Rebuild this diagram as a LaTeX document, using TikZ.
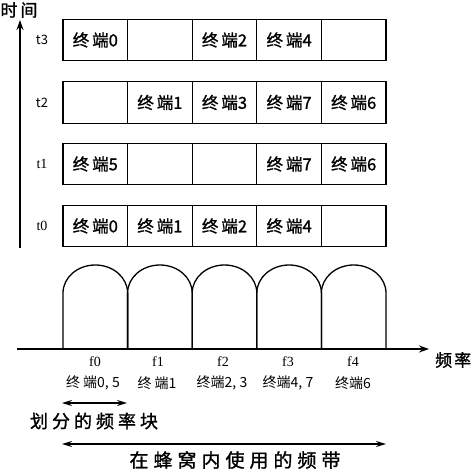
\documentclass[tikz,border=0pt]{standalone}
\usepackage{fontspec}
\setmainfont{Noto Sans CJK SC}
\newfontfamily\bcjk[FakeBold=1.2]{Noto Sans CJK SC}
\newfontfamily\serifnum{Liberation Serif}
\usetikzlibrary{arrows.meta}
\tikzset{
  cell/.style={draw, line width=1.3pt, minimum width=64.6pt, minimum height=41.5pt, inner sep=0pt, font=\bcjk\fontsize{16.5}{16.5}\selectfont},
  tlab/.style={font=\fontsize{13}{13}\selectfont, inner sep=0pt},
  flab/.style={font=\serifnum\fontsize{14}{14}\selectfont, inner sep=0pt},
  ulab/.style={font=\fontsize{14}{14}\selectfont, inner sep=0pt},
  big/.style={font=\bcjk\fontsize{18}{18}\selectfont, inner sep=0pt},
  axis/.style={line width=1.8pt, -{Stealth[length=10pt,width=7pt]}},
  hump/.style={line width=1.3pt},
  band/.style={line width=1.5pt, {Stealth[length=10pt,width=6pt]}-{Stealth[length=10pt,width=6pt]}}
}
\newcommand{\zd}[1]{终\hspace{3pt}端#1}
\begin{document}
\begin{tikzpicture}[x=1pt,y=-1pt]
\useasboundingbox (0,0) rectangle (474,471);
% time axis
\coordinate (tb) at (20,248);
\coordinate (tt) at (20,20);
\draw[axis] (tb) -- (tt);
\node[big, font=\bcjk\fontsize{17}{17}\selectfont] (time) at (19,10) {时\hspace{3pt}间};
% row labels
\node[tlab] (t3) at (42,40) {t3};
\node[tlab] (t2) at (42,102.5) {t2};
\node[tlab, font=\serifnum\fontsize{14}{14}\selectfont] (t1) at (42,164) {t1};
\node[tlab, font=\serifnum\fontsize{14}{14}\selectfont] (t0) at (42,226) {t0};
% t3
\node[cell] (a0) at (95.3,40) {\zd{0}};
\node[cell] (a1) at (159.9,40) {};
\node[cell] (a2) at (224.5,40) {\zd{2}};
\node[cell] (a3) at (289.1,40) {\zd{4}};
\node[cell] (a4) at (353.7,40) {};
% t2
\node[cell] (b0) at (95.3,102.5) {};
\node[cell] (b1) at (159.9,102.5) {\zd{1}};
\node[cell] (b2) at (224.5,102.5) {\zd{3}};
\node[cell] (b3) at (289.1,102.5) {\zd{7}};
\node[cell] (b4) at (353.7,102.5) {\zd{6}};
% t1
\node[cell] (c0) at (95.3,164) {\zd{5}};
\node[cell] (c1) at (159.9,164) {};
\node[cell] (c2) at (224.5,164) {};
\node[cell] (c3) at (289.1,164) {\zd{7}};
\node[cell] (c4) at (353.7,164) {\zd{6}};
% t0
\node[cell] (d0) at (95.3,226) {\zd{0}};
\node[cell] (d1) at (159.9,226) {\zd{1}};
\node[cell] (d2) at (224.5,226) {\zd{2}};
\node[cell] (d3) at (289.1,226) {\zd{4}};
\node[cell] (d4) at (353.7,226) {};
% frequency axis
\coordinate (fl) at (17,349);
\coordinate (fr) at (429,349);
\draw[axis] (fl) -- (fr);
\node[big, font=\bcjk\fontsize{17}{17}\selectfont, anchor=west] (freq) at (435,360) {频\hspace{2pt}率};
% humps
\foreach \i in {0,...,4}{
  \pgfmathsetmacro{\xa}{63+64.6*\i}
  \pgfmathsetmacro{\xm}{\xa+32.3}
  \pgfmathsetmacro{\xb}{\xa+64.6}
  \pgfmathsetmacro{\ca}{\xa+32.3*0.4477}
  \pgfmathsetmacro{\cb}{\xm+32.3*0.5523}
  \draw[hump] (\xa,349) -- (\xa,293) .. controls (\xa,277.5) and (\ca,265) .. (\xm,265)
     .. controls (\cb,265) and (\xb,277.5) .. (\xb,293) -- (\xb,349);
}
% frequency labels
\node[flab] (f0) at (95,362) {f0};
\node[flab] (f1) at (158,362) {f1};
\node[flab] (f2) at (223,362) {f2};
\node[flab] (f3) at (288,362) {f3};
\node[flab] (f4) at (353,362) {f4};
\node[ulab] (u0) at (93,383) {\zd{0, 5}};
\node[ulab] (u1) at (157,383) {\zd{1}};
\node[ulab] (u2) at (222,383) {终端2, 3};
\node[ulab] (u3) at (288,383) {终端4, 7};
\node[ulab] (u4) at (353,383) {终端6};
% block arrow
\coordinate (ba) at (62,403);
\coordinate (bb) at (127,403);
\draw[band] (ba) -- (bb);
\node[big] (blk) at (94,421) {划\hspace{4pt}分\hspace{4pt}的\hspace{4pt}频\hspace{4pt}率\hspace{4pt}块};
% band arrow
\coordinate (la) at (62,444);
\coordinate (lb) at (386,444);
\draw[band] (la) -- (lb);
\node[big, font=\bcjk\fontsize{19}{19}\selectfont] (cellband) at (235,460) {在\hspace{5pt}蜂\hspace{5pt}窝\hspace{5pt}内\hspace{5pt}使\hspace{5pt}用\hspace{5pt}的\hspace{5pt}频\hspace{5pt}带};
\end{tikzpicture}
\end{document}
